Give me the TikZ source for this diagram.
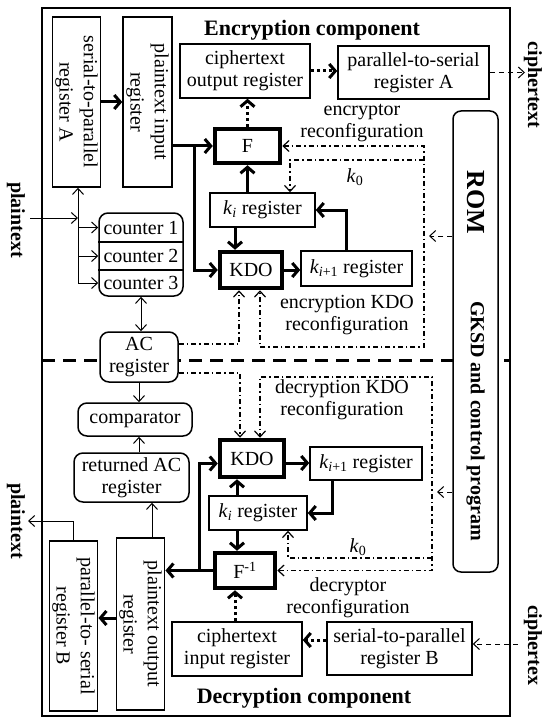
\documentclass[tikz,border=0pt]{standalone}
\usepackage{fontspec}
\setmainfont{Liberation Serif}
\usepackage{graphicx}
\usetikzlibrary{calc,positioning,arrows.meta}

\newcommand{\vtext}[1]{\rotatebox{-90}{\renewcommand{\arraystretch}{1.1}\begin{tabular}{@{}c@{}}#1\end{tabular}}}
\newcommand{\kvar}[1]{\textit{k}\textsubscript{#1}}

\begin{document}
\begin{tikzpicture}[x=1pt,y=-1pt,
    >={Straight Barb[length=6pt,width=11pt]},
    every node/.style={font=\fontsize{20}{22}\selectfont, inner sep=0pt},
    regbox/.style={draw, line width=1.5pt, fill=white, align=center},
    roundbox/.style={regbox, rounded corners=9pt},
    opbox/.style={draw, line width=4.5pt, fill=white},
    boldlabel/.style={font=\fontsize{20}{22}\selectfont\bfseries},
    titlelabel/.style={font=\fontsize{22}{24}\selectfont\bfseries},
    thickarrow/.style={line width=3pt, -{Straight Barb[length=6pt,width=14pt]}},
    dotarrow/.style={thickarrow, dash pattern=on 3pt off 3pt},
    thinarrow/.style={line width=1pt, ->},
    dasharrow/.style={thinarrow, dash pattern=on 5pt off 4pt},
    ddline/.style={line width=1.2pt, dash pattern=on 5pt off 3pt on 1.5pt off 3pt}]

    \useasboundingbox (0,0) rectangle (550,722);

    % frame and divider
    \draw[line width=1.2pt] (42,8) rectangle (510,716);
    \draw[line width=3pt, dash pattern=on 13pt off 8pt] (42,360) -- (510,360);

    % encryption component
    \node[regbox, minimum width=47, minimum height=170] (spa) at (76.5,102) {\vtext{serial-to-parallel\\register A}};
    \node[regbox, minimum width=49, minimum height=170] (pir) at (147.5,102) {\vtext{plaintext input\\register}};
    \node[regbox, minimum width=130, minimum height=54] (cor) at (245,71) {ciphertext\\output register};
    \node[regbox, minimum width=151, minimum height=53] (psa) at (413.5,72.5) {parallel-to-serial\\register A};
    \node[opbox, minimum width=65, minimum height=34] (F) at (247.5,146) {F};
    \node[regbox, minimum width=105, minimum height=34] (kie) at (262.5,210) {\kvar{\textit{i}} register};
    \node[opbox, minimum width=62, minimum height=36] (kdoe) at (251,270) {KDO};
    \node[regbox, minimum width=111, minimum height=35] (kpe) at (356.5,268.5) {\kvar{\textit{i}+1} register};

    \node[roundbox, minimum width=84, minimum height=83] (cnt) at (141,254.5) {};
    \draw[line width=1.5pt] (cnt.west |- 0,242) -- (cnt.east |- 0,242);
    \draw[line width=1.5pt] (cnt.west |- 0,270) -- (cnt.east |- 0,270);
    \node (c1) at (141,227.5) {counter 1};
    \node (c2) at (141,256) {counter 2};
    \node (c3) at (141,283) {counter 3};

    \node[roundbox, minimum width=78, minimum height=50] (acr) at (139,357) {AC\\register};

    % ROM
    \node[roundbox, rounded corners=8pt, minimum width=45, minimum height=461] (rom) at (475.5,341.5) {};
    \node[rotate=-90, font=\fontsize{26}{28}\selectfont\bfseries] (romt) at (475.5,202) {ROM};
    \node[boldlabel, rotate=-90] (gksd) at (475.5,421) {GKSD and control program};

    % decryption component
    \node[roundbox, minimum width=114, minimum height=33] (cmp) at (135,419.5) {comparator};
    \node[roundbox, minimum width=115, minimum height=49] (rac) at (131.5,477.5) {returned AC\\register};
    \node[opbox, minimum width=64, minimum height=37] (kdod) at (252,458.5) {KDO};
    \node[regbox, minimum width=112, minimum height=33] (kpd) at (366,463.5) {\kvar{\textit{i}+1} register};
    \node[regbox, minimum width=98, minimum height=34] (kid) at (258,513) {\kvar{\textit{i}} register};
    \node[opbox, minimum width=60, minimum height=35] (Fi) at (245,570.5) {F\textsuperscript{-1}};
    \node[regbox, minimum width=47, minimum height=172] (por) at (140.5,624) {\vtext{plaintext output\\register}};
    \node[regbox, minimum width=47, minimum height=170] (psb) at (73.5,626) {\vtext{parallel-to- serial\\register B}};
    \node[regbox, minimum width=130, minimum height=54] (cir) at (237,649) {ciphertext\\input register};
    \node[regbox, minimum width=145, minimum height=53] (spb) at (399.5,648.5) {serial-to-parallel\\register B};

    % labels
    \node[titlelabel] (enct) at (312,30) {Encryption component};
    \node[titlelabel] (dect) at (304,698) {Decryption component};
    \node[align=center] (encr) at (362,123) {encryptor\\reconfiguration};
    \node[align=center] (enkr) at (347,315) {encryption KDO\\reconfiguration};
    \node[align=center] (dekr) at (342,400) {decryption KDO\\reconfiguration};
    \node[align=center] (decr) at (348,598) {decryptor\\reconfiguration};
    \node (k0e) at (355,177) {\kvar{0}};
    \node (k0d) at (358,547) {\kvar{0}};
    \node[boldlabel, rotate=-90] (ptin) at (16,220) {plaintext};
    \node[boldlabel, rotate=-90] (ptout) at (16,521) {plaintext};
    \node[boldlabel, rotate=-90] (ctout) at (533,85) {ciphertext};
    \node[boldlabel, rotate=-90] (ctin) at (533,645) {ciphertex};

    % encryption data path
    \coordinate (pin) at (30,218);
    \coordinate (jin) at (78,218);
    \coordinate (bre) at (194,146);
    \coordinate (cout) at (525,72.5);
    \draw[thinarrow] (pin) -- (jin);
    \draw[thinarrow] (jin |- c3) -- (spa.south -| jin);
    \foreach \c in {c1,c2,c3}
        \draw[thinarrow] (jin |- \c) -- (cnt.west |- \c);
    \draw[thickarrow] (spa.east) -- (pir.west);
    \draw[thickarrow] (pir.east |- F.west) -- (F.west);
    \draw[thickarrow] (bre) |- (kdoe.west);
    \draw[thickarrow] (kie.north -| F.south) -- (F.south);
    \draw[thickarrow] (kie.south -| 235,0) -- (kdoe.north -| 235,0);
    \draw[thickarrow] (kdoe.east) -- (kdoe.east -| kpe.west);
    \draw[thickarrow] (kpe.north -| 346,0) |- (kie.east);
    \draw[dotarrow] (F.north) -- (F.north |- cor.south);
    \draw[dotarrow] (cor.east) -- (cor.east -| psa.west);
    \draw[dasharrow] (psa.east) -- (cout);
    \draw[thinarrow, <->] (cnt.south) -- (cnt.south |- acr.north);
    \draw[thinarrow] (acr.south) -- (acr.south |- cmp.north);

    % encryption reconfiguration
    \coordinate (re1) at (424,146);
    \coordinate (re2) at (424,347);
    \coordinate (ke) at (424,160);
    \coordinate (re3) at (429,236);
    \draw[ddline, <->] (F.east) -- (re1) -- (re2) -| (kdoe.south -| 260,0);
    \draw[ddline, ->] (ke) -| (kie.north -| 290,0);
    \draw[ddline, ->] (acr.east |- 0,344) -| (kdoe.south -| 239,0);
    \draw[dasharrow] (rom.west |- re3) -- (re3);

    % decryption data path
    \coordinate (brd) at (199,570.5);
    \coordinate (pout) at (28,521);
    \coordinate (cin) at (518,644);
    \draw[thinarrow] (rac.north -| acr.south) -- (cmp.south -| acr.south);
    \draw[thinarrow] (por.north -| 152,0) -- (rac.south -| 152,0);
    \draw[thickarrow] (por.west |- 0,618) -- (psb.east |- 0,618);
    \draw[thinarrow] (psb.north) |- (pout);
    \draw[thickarrow] (Fi.west) -- (Fi.west -| por.east);
    \draw[thickarrow] (brd) |- ([yshift=-5pt]kdod.west);
    \draw[thickarrow] (kid.north -| 237,0) -- (kdod.south -| 237,0);
    \draw[thickarrow] (kid.south -| 237,0) -- (Fi.north -| 237,0);
    \draw[thickarrow] (kdod.east |- 0,463) -- (kpd.west |- 0,463);
    \draw[thickarrow] (kpd.south -| 332,0) |- (kid.east);
    \draw[dotarrow] (cir.north -| 235,0) -- (Fi.south -| 235,0);
    \draw[dotarrow] (spb.west |- 0,640) -- (cir.east |- 0,640);
    \draw[dasharrow] (cin) -- (spb.east |- cin);

    % decryption reconfiguration
    \coordinate (rd1) at (432,377);
    \coordinate (rd2) at (432,570.5);
    \coordinate (kd) at (432,558);
    \coordinate (rd3) at (437,492);
    \draw[ddline, <->] (Fi.east) -- (rd2) -- (rd1) -| (kdod.north -| 260,0);
    \draw[ddline, ->] (kd) -| (kid.south -| 288,0);
    \draw[ddline, ->] (acr.east |- 0,373) -| (kdod.north -| 240,0);
    \draw[dasharrow] (rom.west |- rd3) -- (rd3);

\end{tikzpicture}
\end{document}
